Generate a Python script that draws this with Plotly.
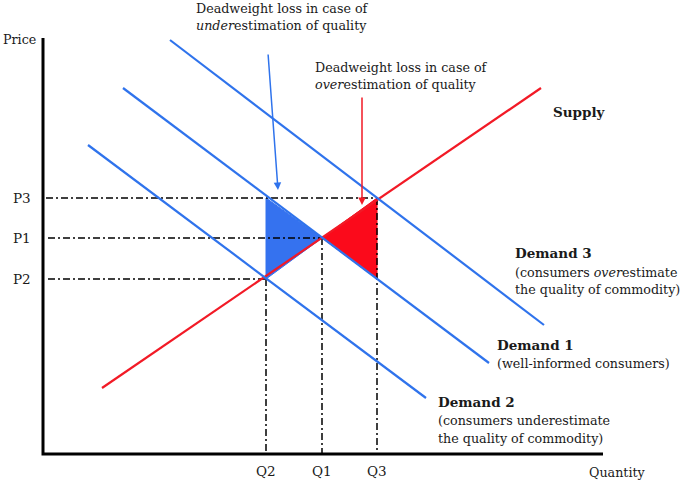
import plotly.graph_objects as go

# prices and quantities (origin at the axes corner)
price_levels = {"P3": 256, "P1": 216, "P2": 175}
quantity_levels = {"Q2": 223, "Q1": 279, "Q3": 334}

supply_q = [59, 498]
supply_p = [66, 366]

demand3_q = [127, 501]
demand3_p = [414, 129]
demand1_q = [80, 446]
demand1_p = [366, 91]
demand2_q = [45, 383]
demand2_p = [309, 56]

# deadweight loss triangles
dwl_under_q = [223, 279, 223, 223]
dwl_under_p = [256, 216, 175, 256]
dwl_over_q = [279, 334, 334, 279]
dwl_over_p = [216, 256, 175, 216]

axis_q_max = 560
axis_p_max = 416

BLUE = "#2f73ec"
RED = "#f21a26"
TXT = "#1a1a1a"
FONT = "DejaVu Serif"
DASHDOT = "7px,3px,2px,3px"

fig = go.Figure()

# fills first
fig.add_trace(go.Scatter(x=dwl_under_q, y=dwl_under_p, mode="lines", fill="toself",
                         fillcolor="#3572ef", line=dict(color="#3572ef", width=1)))
fig.add_trace(go.Scatter(x=dwl_over_q, y=dwl_over_p, mode="lines", fill="toself",
                         fillcolor="#fb0a1b", line=dict(color="#fb0a1b", width=1)))

# guide lines (dash-dot)
p1, p2, p3 = price_levels["P1"], price_levels["P2"], price_levels["P3"]
q1, q2, q3 = quantity_levels["Q1"], quantity_levels["Q2"], quantity_levels["Q3"]
guides = [
    ([3, q3], [p3, p3]),
    ([5, q1], [p1, p1]),
    ([5, q2], [p2, p2]),
    ([q2, q2], [p2, 0]),
    ([q1, q1], [p1, 0]),
    ([q3, q3], [p3, 0]),
]
for gx, gy in guides:
    fig.add_trace(go.Scatter(x=gx, y=gy, mode="lines",
                             line=dict(color="black", width=1.5, dash=DASHDOT)))

# supply and demand curves
fig.add_trace(go.Scatter(x=supply_q, y=supply_p, mode="lines", line=dict(color=RED, width=2.2)))
for dq, dp in [(demand3_q, demand3_p), (demand1_q, demand1_p), (demand2_q, demand2_p)]:
    fig.add_trace(go.Scatter(x=dq, y=dp, mode="lines", line=dict(color=BLUE, width=2.2)))

# axes
fig.add_trace(go.Scatter(x=[0, 0, axis_q_max], y=[axis_p_max, 0, 0], mode="lines",
                         line=dict(color="black", width=3)))

def label(x, y, text, xanchor="left", size=12.7, bold=False):
    if bold:
        text = "<b>" + text + "</b>"
        size = 13.5
    fig.add_annotation(x=x, y=y, text=text, showarrow=False, xanchor=xanchor,
                       yanchor="middle", font=dict(family=FONT, size=size, color=TXT))

# axis labels
label(-42, 415, "Price")
label(544, -18, "Quantity")
for name, p in price_levels.items():
    label(-10, p, name, xanchor="right", size=13.5)
for name, q in quantity_levels.items():
    label(q, -17, name, xanchor="center", size=13.5)

# curve labels
label(508, 342, "Supply", bold=True)
label(470, 201, "Demand 3", bold=True)
label(470, 182, "(consumers <i>over</i>estimate")
label(470, 165, "the quality of commodity)")
label(452, 109, "Demand 1", bold=True)
label(452, 91, "(well-informed consumers)")
label(393, 52, "Demand 2", bold=True)
label(393, 34, "(consumers underestimate")
label(393, 16, "the quality of commodity)")

# deadweight loss notes
label(151, 446, "Deadweight loss in case of")
label(151, 429, "<i>under</i>estimation of quality")
label(270, 387, "Deadweight loss in case of")
label(270, 370, "<i>over</i>estimation of quality")

# arrows
fig.add_annotation(x=235, y=264, ax=225, ay=401, xref="x", yref="y", axref="x", ayref="y",
                   text="", showarrow=True, arrowhead=2, arrowsize=1, arrowwidth=1.5,
                   arrowcolor=BLUE)
fig.add_annotation(x=319, y=249, ax=319, ay=358, xref="x", yref="y", axref="x", ayref="y",
                   text="", showarrow=True, arrowhead=2, arrowsize=1, arrowwidth=1.5,
                   arrowcolor=RED)

fig.update_layout(
    width=685, height=480,
    margin=dict(l=0, r=0, t=0, b=0),
    paper_bgcolor="white", plot_bgcolor="white",
    showlegend=False,
    xaxis=dict(range=[-43, 642], visible=False, fixedrange=True),
    yaxis=dict(range=[-26, 454], visible=False, fixedrange=True),
)

# page body has a default 8px margin; drop it so the figure fills the window
fig.write_html("out.html", config={"displayModeBar": False},
               post_script="document.body.style.margin='0';")
